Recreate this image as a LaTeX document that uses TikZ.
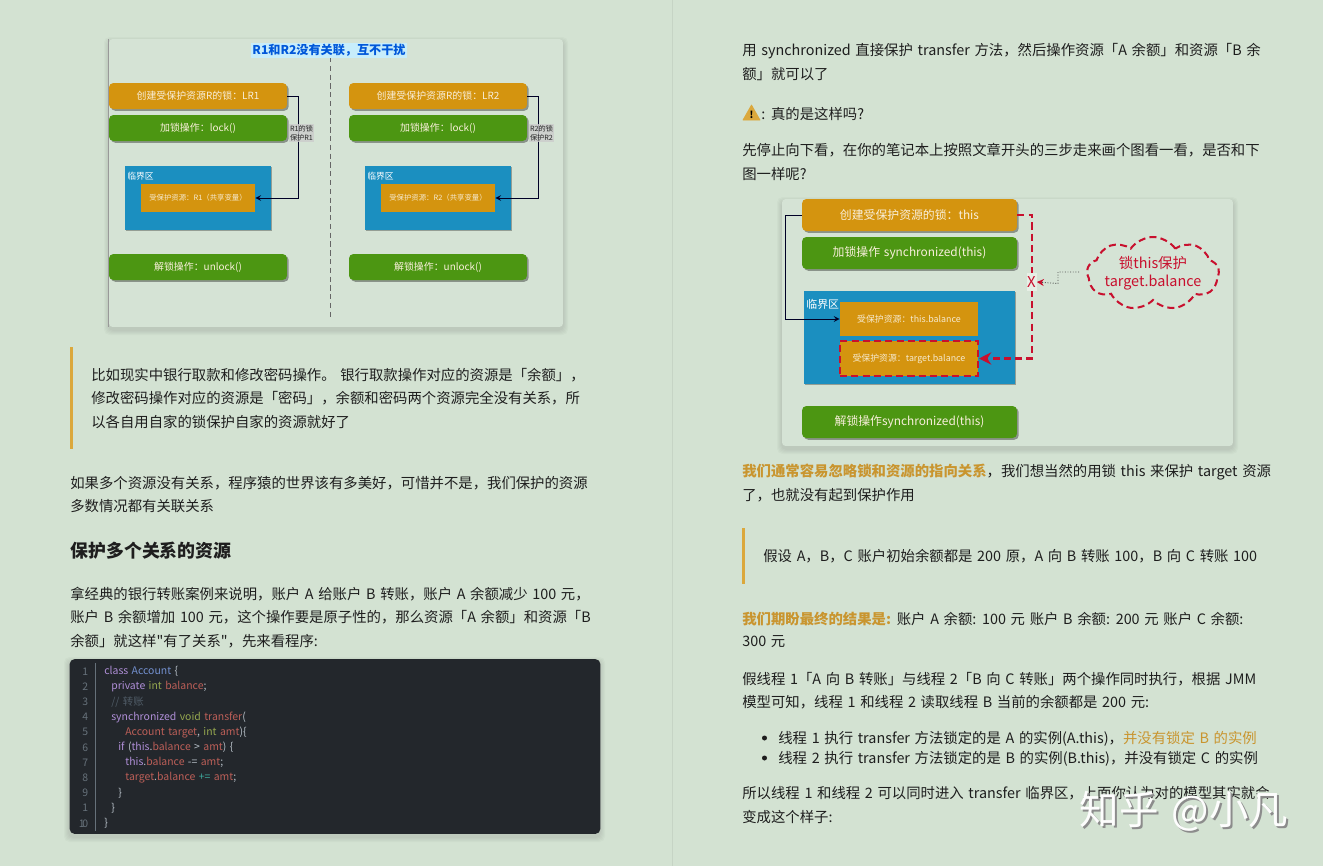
\documentclass[tikz,border=0pt]{standalone}
\usepackage{fontspec}
\setmainfont[WordSpace=1.45,Ligatures=TeXOff]{Noto Sans CJK SC}
\usetikzlibrary{calc}
\usetikzlibrary{shadows}
\usetikzlibrary{shapes.symbols}
\usetikzlibrary{arrows.meta}
\definecolor{pagebg}{HTML}{D3E2D2}
\definecolor{cardbg}{HTML}{D5E3D5}
\definecolor{bodyink}{HTML}{1E1E1E}
\definecolor{lockorange}{HTML}{D4940F}
\definecolor{lockgreen}{HTML}{4C9612}
\definecolor{areablue}{HTML}{1B8FC0}
\definecolor{warnred}{HTML}{C8102E}
\definecolor{quotebar}{HTML}{DBA83C}
\definecolor{noteorange}{HTML}{C9952F}
\definecolor{codebg}{HTML}{23272C}
\definecolor{codenum}{HTML}{66717A}
\definecolor{kwpurple}{HTML}{B08FD8}
\definecolor{tyolive}{HTML}{96A84F}
\definecolor{varred}{HTML}{BC5F58}
\definecolor{clsblue}{HTML}{7390CF}
\definecolor{cmtgrey}{HTML}{4F5B66}
\definecolor{optteal}{HTML}{3FAFA2}
\definecolor{plainink}{HTML}{B9C2CA}
\tikzset{
  card/.style={draw=none,fill=cardbg,rounded corners=2pt},
  lockbox/.style={rounded corners=2.5pt,text=white!85!lockorange,inner sep=0pt,
    font=\fontsize{5.65pt}{7pt}\selectfont,
    drop shadow={shadow xshift=1pt,shadow yshift=-1pt,opacity=.35,fill=black}},
  bigbox/.style={lockbox,font=\fontsize{6.75pt}{8.5pt}\selectfont},
  areabox/.style={fill=areablue,inner sep=0pt,
    drop shadow={shadow xshift=.6pt,shadow yshift=-.6pt,opacity=.3,fill=black}},
  innerbox/.style={fill=lockorange,inner sep=0pt,text=white!80!lockorange,
    font=\fontsize{4.2pt}{5pt}\selectfont},
  areatag/.style={text=white,inner sep=0pt,anchor=west,font=\fontsize{5pt}{6pt}\selectfont},
  linktag/.style={fill=black!20,fill opacity=.8,text opacity=1,inner sep=.5pt,align=center,text=black!85,
    font=\fontsize{4.1pt}{5.1pt}\selectfont},
  bodyline/.style={anchor=west,inner sep=0pt,yshift=-.3pt,text=bodyink,font=\fontsize{8.18pt}{9pt}\selectfont},
  codeline/.style={anchor=west,inner sep=0pt,text=plainink,font=\fontsize{5.95pt}{7pt}\selectfont},
  numline/.style={anchor=east,inner sep=0pt,text=codenum,font=\fontsize{5.95pt}{7pt}\selectfont},
  redline/.style={draw=warnred,line width=1.15pt,dash pattern=on 4pt off 2.4pt},
}
\newcommand{\kw}[1]{\textcolor{kwpurple}{#1}}
\newcommand{\ty}[1]{\textcolor{tyolive}{#1}}
\newcommand{\vr}[1]{\textcolor{varred}{#1}}
\newcommand{\softglow}[4]{\foreach \d in {1,2,3,4,5}
  \fill[black,opacity=.018,rounded corners=3pt] (#1-\d,#2-\d+3) rectangle (#3+\d,#4+\d+3);}
\begin{document}
\begin{tikzpicture}[x=0.02cm,y=-0.02cm,>=stealth]
    \path[use as bounding box,fill=pagebg] (0,0) rectangle (1323,866);
    \draw[pagebg!94!black,line width=.5pt] (672,0) -- (672,866);
    % first picture
    \softglow{109}{39}{563}{327}
    \node[card,minimum width=9.08cm,minimum height=5.76cm] (cardA) at (336,183) {};
    \draw[black!40,line width=.8pt] (cardA.north west) -- (cardA.south west);
    \draw[densely dashed,black!60,line width=.4pt] (330,57) -- (330,318);
    \node[fill=cyan!22,inner sep=.6pt,text=blue!60!cyan!85!black,font=\bfseries\fontsize{6.9pt}{8pt}\selectfont] (titleA) at (329,50.5) {R1和R2没有关联，互不干扰};
    \node[lockbox,fill=lockorange,minimum width=3.56cm,minimum height=.52cm] (makeA) at (198,96) {创建受保护资源R的锁：LR1};
    \node[lockbox,fill=lockgreen,minimum width=3.56cm,minimum height=.52cm] (lockA) at (198,128) {加锁操作：lock()};
    \node[areabox,minimum width=2.92cm,minimum height=1.29cm] (areaA) at (198,198) {};
    \node[areatag] at (127,176) {临界区};
    \node[innerbox,minimum width=2.28cm,minimum height=.56cm] (resA) at (198,198) {受保护资源：R1（共享变量）};
    \node[lockbox,fill=lockgreen,minimum width=3.56cm,minimum height=.52cm] (freeA) at (198,267) {解锁操作：unlock()};
    \draw[->,black!85!blue,line width=.45pt] (makeA.east) -- ++(11.5,0) |- (resA.east);
    \node[linktag] (tagA) at (301.5,133) {R1的锁\\保护R1};
    \node[lockbox,fill=lockorange,minimum width=3.56cm,minimum height=.52cm] (makeB) at (438,96) {创建受保护资源R的锁：LR2};
    \node[lockbox,fill=lockgreen,minimum width=3.56cm,minimum height=.52cm] (lockB) at (438,128) {加锁操作：lock()};
    \node[areabox,minimum width=2.92cm,minimum height=1.29cm] (areaB) at (438,198) {};
    \node[areatag] at (367,176) {临界区};
    \node[innerbox,minimum width=2.28cm,minimum height=.56cm] (resB) at (438,198) {受保护资源：R2（共享变量）};
    \node[lockbox,fill=lockgreen,minimum width=3.56cm,minimum height=.52cm] (freeB) at (438,267) {解锁操作：unlock()};
    \draw[->,black!85!blue,line width=.45pt] (makeB.east) -- ++(11.5,0) |- (resB.east);
    \node[linktag] (tagB) at (541.5,133) {R2的锁\\保护R2};
    % left column text
    \fill[quotebar] (70,347) rectangle (73,449);
    \node[bodyline] (q1) at (91,375) {比如现实中银行取款和修改密码操作。 银行取款操作对应的资源是「余额」，};
    \node[bodyline] (q2) at (91,398) {修改密码操作对应的资源是「密码」，余额和密码两个资源完全没有关系，所};
    \node[bodyline] (q3) at (91,421) {以各自用自家的锁保护自家的资源就好了};
    \node[bodyline] (p1) at (70,483) {如果多个资源没有关系，程序猿的世界该有多美好，可惜并不是，我们保护的资源};
    \node[bodyline] (p2) at (70,506) {多数情况都有关联关系};
    \node[bodyline,font=\bfseries\fontsize{10.2pt}{11pt}\selectfont] (head) at (70,550) {保护多个关系的资源};
    \node[bodyline] (p3) at (70,594) {拿经典的银行转账案例来说明，账户 A 给账户 B 转账，账户 A 余额减少 100 元，};
    \node[bodyline] (p4) at (70,617) {账户 B 余额增加 100 元，这个操作要是原子性的，那么资源「A 余额」和资源「B};
    \node[bodyline] (p5) at (70,641) {余额」就这样"有了关系"，先来看程序:};
    % code
    \softglow{69}{659}{600}{834}
    \node[fill=codebg,rounded corners=3pt,minimum width=10.62cm,minimum height=3.5cm] (code) at (335,746.5) {};
    \draw[codenum,line width=.5pt] (95.4,663) -- (95.4,831);
    \foreach \row/\num in {0/1,1/2,2/3,3/4,4/5,5/6,6/7,7/8,8/9,9/1}
      \node[numline] at (88.6,671.3+15.2*\row) {\num};
    \node[numline] at (88.6,823.3) {\kern-1pt 1\kern-1.2pt 0};
    \node[codeline] at (104,671.3) {\kw{class} \textcolor{clsblue}{Account} \{};
    \node[codeline] at (111,686.5) {\kw{private} \ty{int} \vr{balance};};
    \node[codeline,text=cmtgrey] at (111,701.7) {// 转账};
    \node[codeline] at (111,717) {\kw{synchronized} \ty{void} \vr{transfer}(};
    \node[codeline] at (125,732.2) {\vr{Account target}, \ty{int} \vr{amt})\{};
    \node[codeline] at (118,747.4) {\kw{if} (\kw{this}.\vr{balance} > \vr{amt}) \{};
    \node[codeline] at (125,762.6) {\kw{this}.\vr{balance} -= \vr{amt};};
    \node[codeline] at (125,777.8) {\vr{target}.\vr{balance} \textcolor{optteal}{+=} \vr{amt};};
    \node[codeline] at (118,793) {\}};
    \node[codeline] at (111,808.2) {\}};
    \node[codeline] at (104,823.3) {\}};
    % right column text
    \node[bodyline] (r1) at (742,51) {用 synchronized 直接保护 transfer 方法，然后操作资源「A 余额」和资源「B 余};
    \node[bodyline] (r2) at (742,74) {额」就可以了};
    \draw[fill=quotebar,draw=quotebar,line join=round,line width=.4pt] (743,120) -- (751.5,105) -- (760,120) -- cycle;
    \node[inner sep=0pt,text=black,font=\bfseries\fontsize{5.5pt}{6pt}\selectfont] (warn) at (751.5,114.5) {!};
    \node[bodyline] (r3) at (761,113) {: 真的是这样吗?};
    \node[bodyline] (r4) at (742,150) {先停止向下看，在你的笔记本上按照文章开头的三步走来画个图看一看，是否和下};
    \node[bodyline] (r5) at (742,173) {图一样呢?};
    % second picture
    \softglow{782}{199}{1233}{446}
    \node[card,minimum width=9.02cm,minimum height=4.94cm] (cardC) at (1007.5,322.5) {};
    \node[bigbox,fill=lockorange,minimum width=4.3cm,minimum height=.64cm] (makeC) at (909.5,215) {创建受保护资源的锁：this};
    \node[bigbox,fill=lockgreen,minimum width=4.3cm,minimum height=.64cm] (lockC) at (909.5,253) {加锁操作 synchronized(this)};
    \node[areabox,minimum width=4.22cm,minimum height=1.86cm] (areaC) at (909.5,337.5) {};
    \node[areatag,font=\fontsize{6.2pt}{7pt}\selectfont] at (806,304) {临界区};
    \node[innerbox,font=\fontsize{5.05pt}{6pt}\selectfont,minimum width=2.76cm,minimum height=.68cm] (thisC) at (909,319) {受保护资源：this.balance};
    \node[innerbox,font=\fontsize{5.05pt}{6pt}\selectfont,minimum width=2.76cm,minimum height=.7cm,redline] (targetC) at (909,358.5) {受保护资源：target.balance};
    \node[bigbox,fill=lockgreen,minimum width=4.3cm,minimum height=.64cm] (freeC) at (909.5,422) {解锁操作synchronized(this)};
    \draw[->,black!85!blue,line width=.5pt] (makeC.west) -- ++(-16,0) |- (thisC.west);
    \draw[redline,-{Stealth[length=7pt,width=7pt,fill=warnred]}] (makeC.east) -- ++(15,0) |- (targetC.east);
    \node[fill=white!45!pagebg,inner sep=0pt,minimum width=.2cm,minimum height=.36cm,text=warnred,font=\fontsize{8.5pt}{9pt}\selectfont] (crossC) at (1031.5,282) {X};
    \node[cloud,cloud puffs=9,cloud puff arc=110,aspect=1.8,redline,fill=cardbg,inner sep=0pt,
      minimum width=2.64cm,minimum height=1.46cm] (cloudC) at (1153,273.5) {};
    \node[align=center,text=warnred,inner sep=0pt,font=\fontsize{8.2pt}{10.4pt}\selectfont] (cloudtext) at (cloudC) {锁this保护\\target.balance};
    \coordinate (tailC) at (1079,272);
    \draw[densely dotted,black!70,line width=.5pt,-{Stealth[length=4pt,width=4pt,color=warnred]}] (tailC) -| (1058,283.5) -- (crossC.east);
    % right column text below
    \node[bodyline] (r6) at (742,472) {\textcolor{noteorange}{\bfseries 我们通常容易忽略锁和资源的指向关系}，我们想当然的用锁 this 来保护 target 资源};
    \node[bodyline] (r7) at (742,495) {了，也就没有起到保护作用};
    \fill[quotebar] (742,528) rectangle (745,584);
    \node[bodyline] (r8) at (763,556) {假设 A，B，C 账户初始余额都是 200 原，A 向 B 转账 100，B 向 C 转账 100};
    \node[bodyline] (r9) at (742,618) {\textcolor{noteorange}{\bfseries 我们期盼最终的结果是:} 账户 A 余额: 100 元 账户 B 余额: 200 元 账户 C 余额:};
    \node[bodyline] (r10) at (742,641) {300 元};
    \node[bodyline] (r11) at (742,679) {假线程 1「A 向 B 转账」与线程 2「B 向 C 转账」两个操作同时执行，根据 JMM};
    \node[bodyline] (r12) at (742,702) {模型可知，线程 1 和线程 2 读取线程 B 当前的余额都是 200 元:};
    \fill[bodyink] (764.5,738) circle (2.5);
    \fill[bodyink] (764.5,758) circle (2.5);
    \node[bodyline] (b1) at (778,738) {线程 1 执行 transfer 方法锁定的是 A 的实例(A.this)，\textcolor{noteorange}{并没有锁定 B 的实例}};
    \node[bodyline] (b2) at (778,758) {线程 2 执行 transfer 方法锁定的是 B 的实例(B.this)，并没有锁定 C 的实例};
    \node[bodyline] (r13) at (742,793) {所以线程 1 和线程 2 可以同时进入 transfer 临界区，上面你认为对的模型其实就会};
    \node[bodyline] (r14) at (742,816) {变成这个样子:};
    % watermark
    \node[inner sep=0pt,anchor=west,text=black!45,font=\fontsize{22.5pt}{23pt}\selectfont] at (1081.5,813.5) {知乎 @小凡};
    \node[inner sep=0pt,anchor=west,text=white!95!pagebg,font=\fontsize{22.5pt}{23pt}\selectfont] (mark) at (1079.5,811.5) {知乎 @小凡};
\end{tikzpicture}
\end{document}
